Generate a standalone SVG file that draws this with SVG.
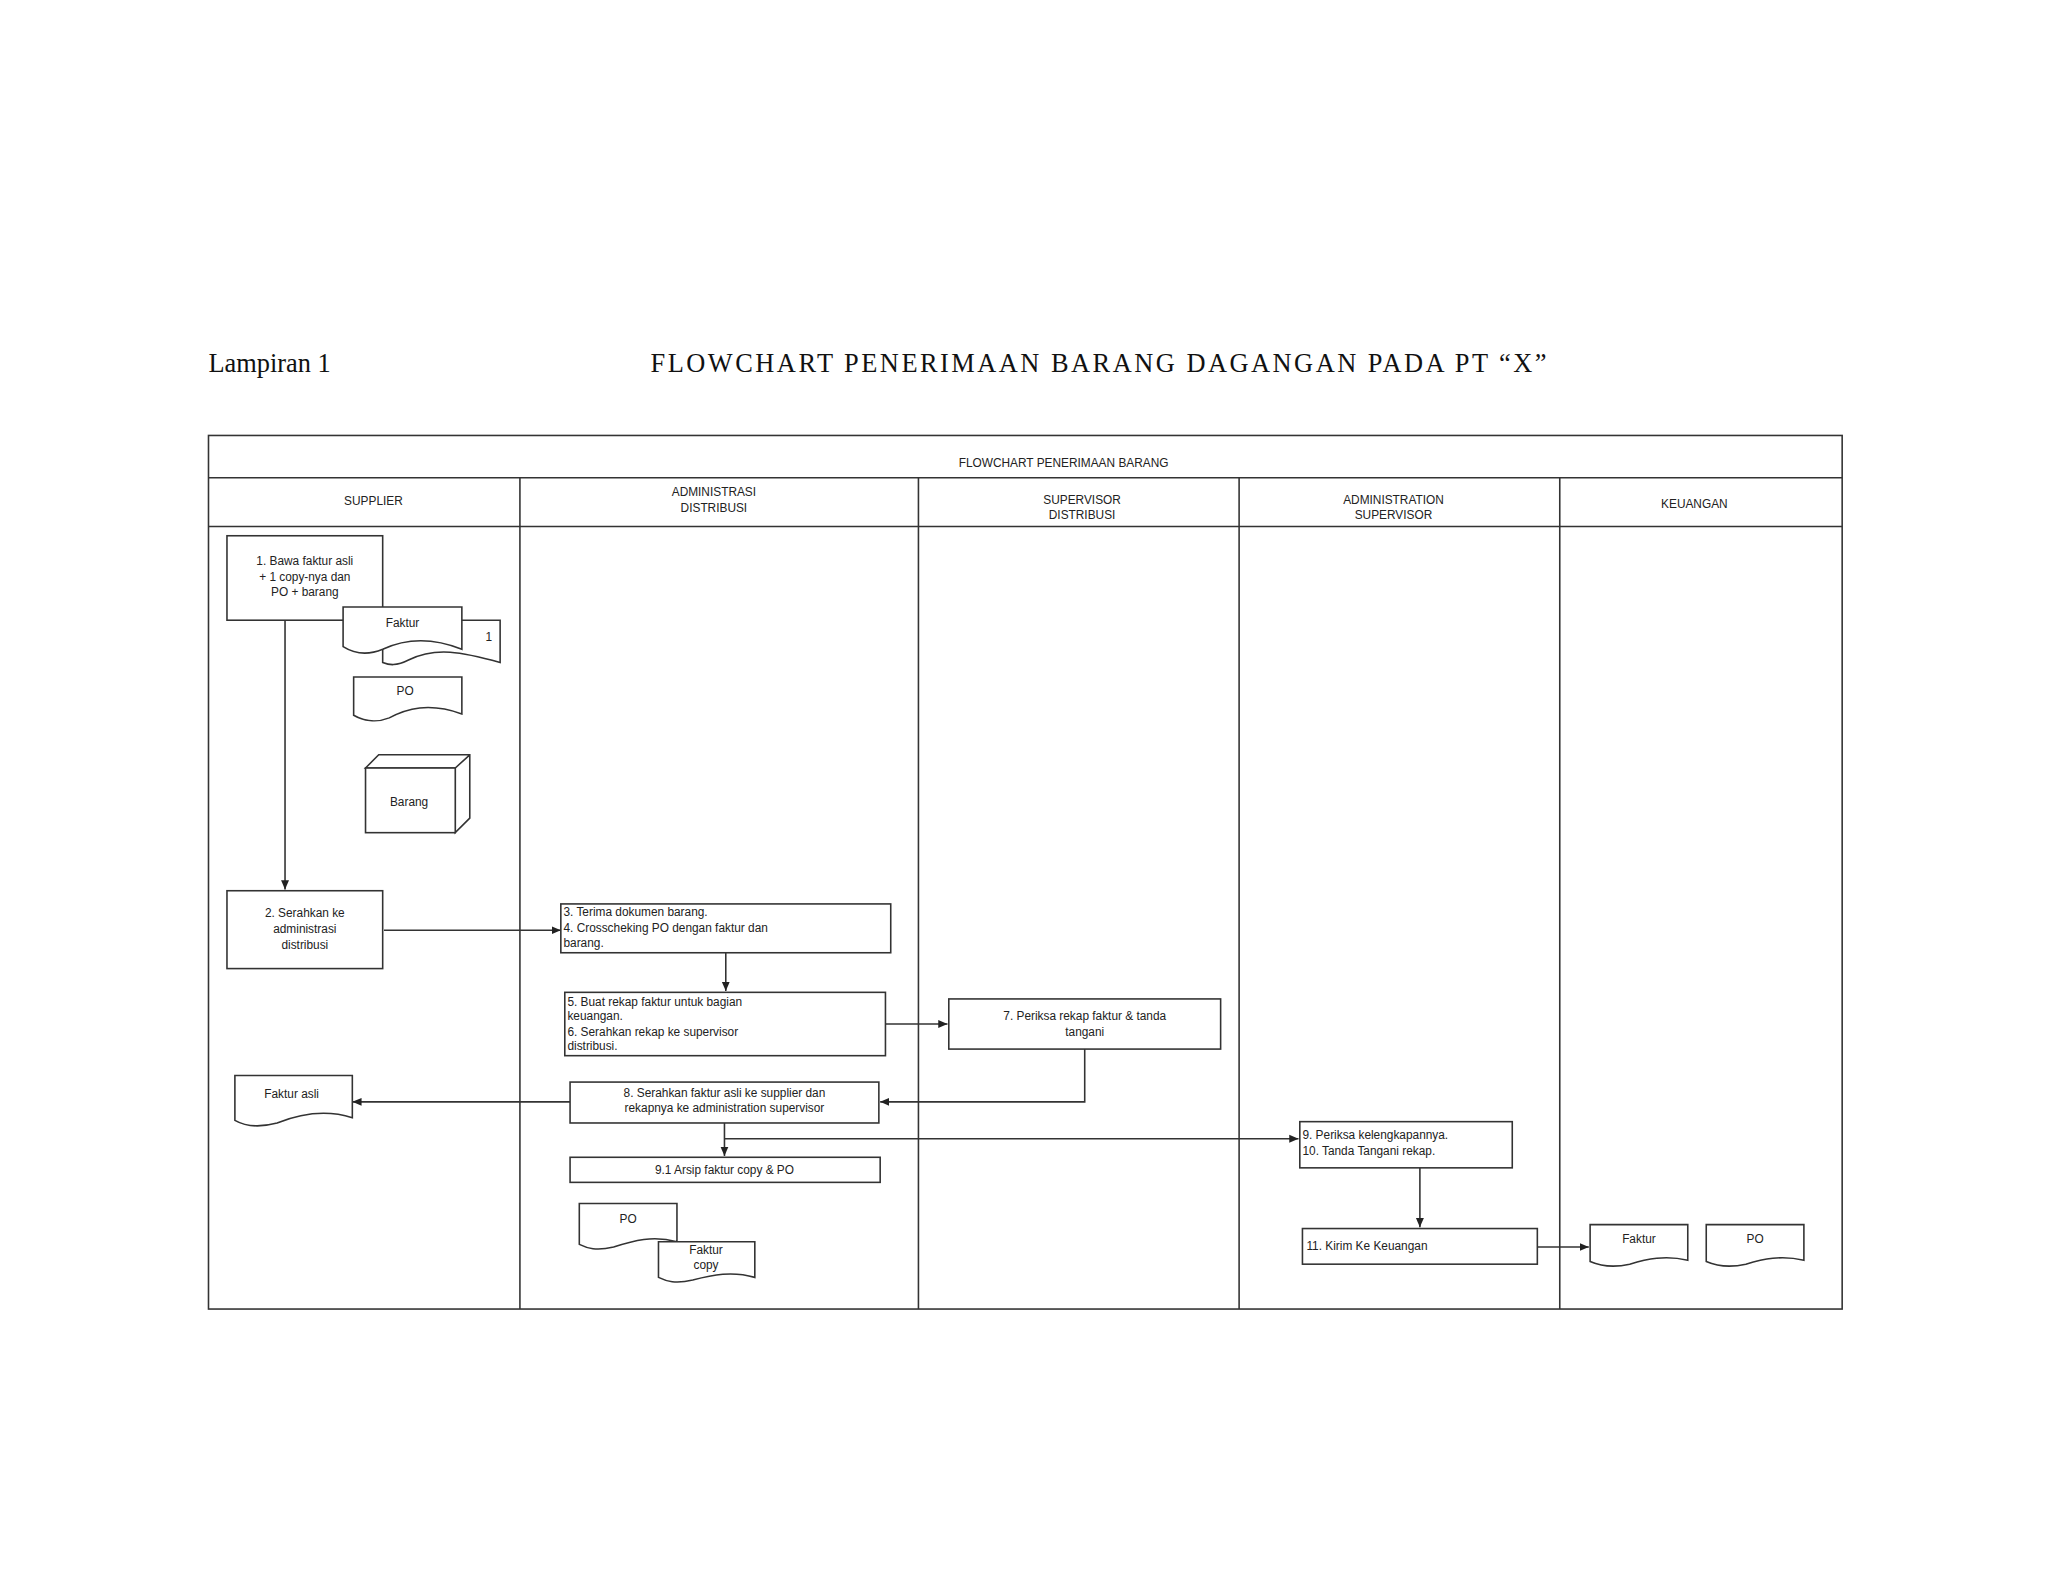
<svg xmlns="http://www.w3.org/2000/svg" width="2048" height="1582" viewBox="0 0 2048 1582">
<defs>
<style>
.ln{fill:none;stroke:#333;stroke-width:1.2}
.bx{fill:#fff;stroke:#333;stroke-width:1.2}
.t{font-family:"Liberation Sans",Arial,sans-serif;font-size:9px;fill:#222}
.c{text-anchor:middle}
.h{font-family:"Liberation Serif","Times New Roman",serif;font-size:20px;fill:#111}
</style>
<marker id="ar" markerWidth="8" markerHeight="8" refX="7" refY="4" orient="auto" markerUnits="userSpaceOnUse"><path d="M0,1 L7,4 L0,7 Z" fill="#222"/></marker>
</defs>
<rect width="2048" height="1582" fill="#fff"/>
<g transform="scale(1.3196)">
<text class="h" x="158" y="282">Lampiran 1</text>
<text class="h" x="493" y="282" textLength="679">FLOWCHART PENERIMAAN BARANG DAGANGAN PADA PT “X”</text>
<g id="frame">
<rect class="ln" x="158" y="330" width="1238" height="662"/>
<line class="ln" x1="158" y1="362" x2="1396" y2="362"/>
<line class="ln" x1="158" y1="399" x2="1396" y2="399"/>
<line class="ln" x1="394" y1="362" x2="394" y2="992"/>
<line class="ln" x1="696" y1="362" x2="696" y2="992"/>
<line class="ln" x1="939" y1="362" x2="939" y2="992"/>
<line class="ln" x1="1182" y1="362" x2="1182" y2="992"/>
<text class="t c" x="806" y="354">FLOWCHART PENERIMAAN BARANG</text>
<text class="t c" x="283" y="383">SUPPLIER</text>
<text class="t c" x="541" y="376">ADMINISTRASI</text><text class="t c" x="541" y="388">DISTRIBUSI</text>
<text class="t c" x="820" y="382">SUPERVISOR</text><text class="t c" x="820" y="393">DISTRIBUSI</text>
<text class="t c" x="1056" y="382">ADMINISTRATION</text><text class="t c" x="1056" y="393">SUPERVISOR</text>
<text class="t c" x="1284" y="385">KEUANGAN</text>
</g>
<g id="connectors">
<line class="ln" x1="216" y1="470" x2="216" y2="674" marker-end="url(#ar)"/>
<line class="ln" x1="291" y1="705" x2="425" y2="705" marker-end="url(#ar)"/>
<line class="ln" x1="550" y1="722" x2="550" y2="751" marker-end="url(#ar)"/>
<line class="ln" x1="671" y1="776" x2="718" y2="776" marker-end="url(#ar)"/>
<polyline class="ln" points="822,795 822,835 667,835" marker-end="url(#ar)"/>
<line class="ln" x1="432" y1="835" x2="267" y2="835" marker-end="url(#ar)"/>
<line class="ln" x1="549" y1="851" x2="549" y2="876" marker-end="url(#ar)"/>
<line class="ln" x1="549" y1="863" x2="984" y2="863" marker-end="url(#ar)"/>
<line class="ln" x1="1076" y1="885" x2="1076" y2="930" marker-end="url(#ar)"/>
<line class="ln" x1="1165" y1="945" x2="1204" y2="945" marker-end="url(#ar)"/>
</g>
<g id="n1"><rect class="bx" x="172" y="406" width="118" height="64"/>
<text class="t c" x="231" y="428">1. Bawa faktur asli</text><text class="t c" x="231" y="440">+ 1 copy-nya dan</text><text class="t c" x="231" y="452">PO + barang</text></g>
<g id="faktur1">
<path class="bx" d="M290,470 H379 V502 C350,494 330,490 310,500 C300,505 295,504 290,502 Z"/>
<text class="t" x="368" y="486">1</text>
<path class="bx" d="M260,460 H350 V492 C325,482 305,485 290,492 C278,497 268,495 260,490 Z"/>
<text class="t c" x="305" y="475">Faktur</text></g>
<g id="po1"><path class="bx" d="M268,513 H350 V541 C325,532 308,537 295,544 C285,548 275,546 268,542 Z"/><text class="t c" x="307" y="527">PO</text></g>
<g id="barang"><path class="bx" d="M277,582 L287,572 H356 V620 L345,631 V582 Z M277,582 H345 L356,572"/>
<rect class="bx" x="277" y="582" width="68" height="49"/><text class="t c" x="310" y="611">Barang</text></g>
<g id="n2"><rect class="bx" x="172" y="675" width="118" height="59"/>
<text class="t c" x="231" y="695">2. Serahkan ke</text><text class="t c" x="231" y="707">administrasi</text><text class="t c" x="231" y="719">distribusi</text></g>
<g id="n3"><rect class="bx" x="425" y="685" width="250" height="37"/>
<text class="t" x="427" y="694">3. Terima dokumen barang.</text><text class="t" x="427" y="706">4. Crosscheking PO dengan faktur dan</text><text class="t" x="427" y="718">barang.</text></g>
<g id="n5"><rect class="bx" x="428" y="752" width="243" height="48"/>
<text class="t" x="430" y="762">5. Buat rekap faktur untuk bagian</text><text class="t" x="430" y="773">keuangan.</text><text class="t" x="430" y="785">6. Serahkan rekap ke supervisor</text><text class="t" x="430" y="796">distribusi.</text></g>
<g id="n7"><rect class="bx" x="719" y="757" width="206" height="38"/>
<text class="t c" x="822" y="773">7. Periksa rekap faktur &amp; tanda</text><text class="t c" x="822" y="785">tangani</text></g>
<g id="fakturasli"><path class="bx" d="M178,815 H267 V847 C245,840 225,845 210,851 C195,855 185,853 178,849 Z"/><text class="t c" x="221" y="832">Faktur asli</text></g>
<g id="n8"><rect class="bx" x="432" y="820" width="234" height="31"/>
<text class="t c" x="549" y="831">8. Serahkan faktur asli ke supplier dan</text><text class="t c" x="549" y="843">rekapnya ke administration supervisor</text></g>
<g id="n91"><rect class="bx" x="432" y="877" width="235" height="19"/><text class="t c" x="549" y="890">9.1 Arsip faktur copy &amp; PO</text></g>
<g id="po2"><path class="bx" d="M439,912 H513 V941 C495,936 480,940 465,945 C452,948 445,946 439,943 Z"/><text class="t c" x="476" y="927">PO</text></g>
<g id="fakturcopy"><path class="bx" d="M499,941 H572 V968 C555,963 540,966 525,970 C512,973 505,971 499,968 Z"/><text class="t c" x="535" y="950">Faktur</text><text class="t c" x="535" y="962">copy</text></g>
<g id="n9"><rect class="bx" x="985" y="850" width="161" height="35"/>
<text class="t" x="987" y="863">9. Periksa kelengkapannya.</text><text class="t" x="987" y="875">10. Tanda Tangani rekap.</text></g>
<g id="n11"><rect class="bx" x="987" y="931" width="178" height="27"/><text class="t" x="990" y="947">11. Kirim Ke Keuangan</text></g>
<g id="faktur3"><path class="bx" d="M1205,928 H1279 V955 C1262,951 1248,954 1235,958 C1222,961 1212,959 1205,956 Z"/><text class="t c" x="1242" y="942">Faktur</text></g>
<g id="po3"><path class="bx" d="M1293,928 H1367 V955 C1350,951 1336,954 1323,958 C1310,961 1300,959 1293,956 Z"/><text class="t c" x="1330" y="942">PO</text></g>
</g>
</svg>
